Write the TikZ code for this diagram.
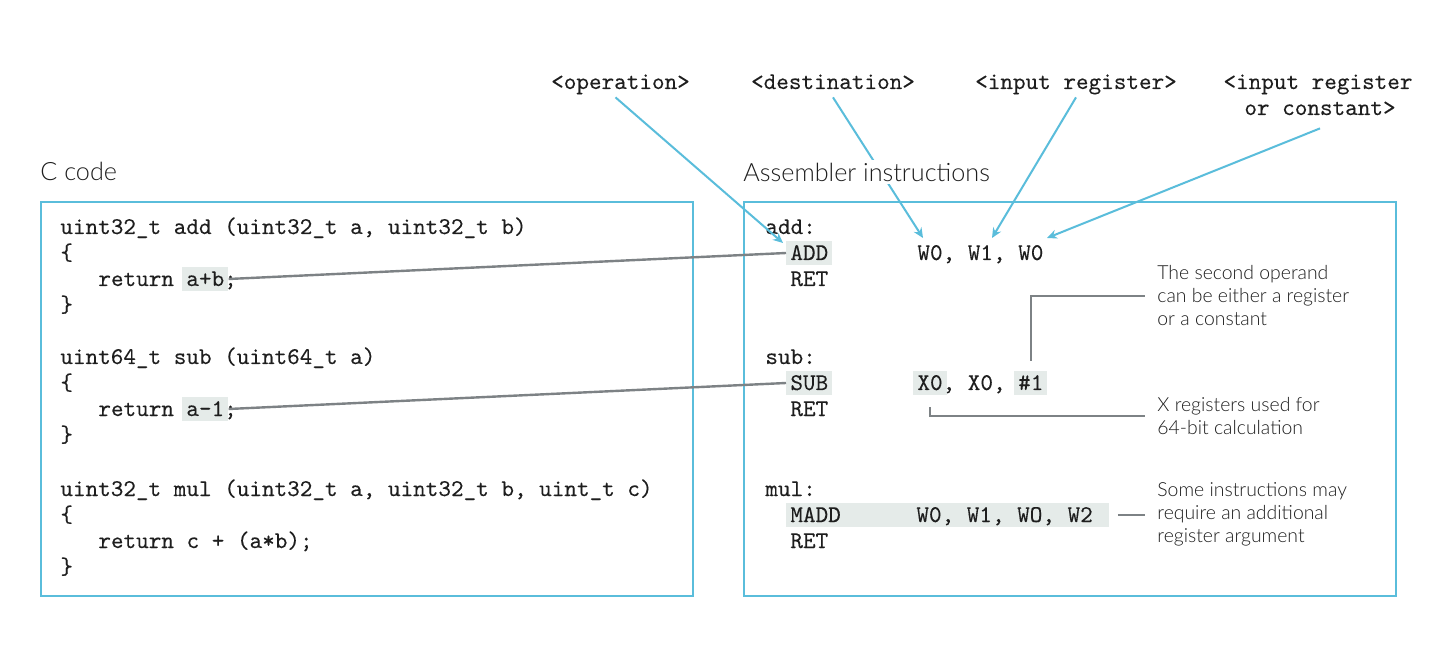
\documentclass[tikz,border=0pt]{standalone}
\usepackage{fontspec}
\newfontfamily\codefont{lmmono10-regular}[Extension=.otf,FakeBold=0.15]
\newfontfamily\latofont{Lato Light}
\usetikzlibrary{arrows.meta,calc}
\definecolor{cyanln}{HTML}{5ABDDB}
\definecolor{grayln}{HTML}{7D8285}
\definecolor{hlfill}{HTML}{E5EBE9}
\definecolor{ink}{HTML}{1E1E1E}
\tikzset{
  code/.style={font=\codefont\fontsize{12pt}{13pt}\selectfont, inner sep=0pt, anchor=base west, text=ink},
  hl/.style={code, fill=hlfill, inner xsep=2pt, inner ysep=0pt, text height=9.5pt, text depth=2.5pt},
  toplbl/.style={code, anchor=base, text depth=4pt},
  title/.style={font=\latofont\fontsize{12.6pt}{14pt}\selectfont, inner sep=0pt, anchor=west, text=ink},
  ann/.style={font=\latofont\fontsize{9.7pt}{11.5pt}\selectfont, align=left, anchor=west, inner xsep=6pt, inner ysep=0pt, text=ink},
  boxst/.style={draw=cyanln, line width=1.2pt, anchor=north west, inner sep=0pt},
  ca/.style={draw=cyanln, line width=1pt, -{Stealth[length=5pt,width=4.5pt]}},
  gl/.style={draw=grayln, line width=1.2pt},
}
\begin{document}
\begin{tikzpicture}[x=0.5pt,y=-0.5pt]
\useasboundingbox[fill=white] (0,0) rectangle (1440,662);

% boxes
\node[boxst, minimum width=326pt, minimum height=197pt] (cbox) at (40,201) {};
\node[boxst, minimum width=326pt, minimum height=197pt] (abox) at (743,201) {};

% title C code
\node[title] (ctitle) at (40,171) {C code};

% top labels
\node[toplbl] (lblop) at (620.5,89) {<operation>};
\node[toplbl] (lbldest) at (833,89) {<destination>};
\node[toplbl] (lblin) at (1076,89) {<input register>};
\node[toplbl] (lblc1) at (1318,89) {<input register};
\node[toplbl] (lblc2) at (1320,115) {or constant>};

% C code
\node[code] (c1) at (60,234) {uint32\_t add (uint32\_t a, uint32\_t b)};
\node[code] (c2) at (60,260) {\{};
\node[code] (c3) at (98,286) {return};
\node[hl] (apb) at (182,286) {a+b};
\node[code] (c3s) at (223.8,286) {;};
\node[code] (c4) at (60,312) {\}};
\node[code] (c5) at (60,364) {uint64\_t sub (uint64\_t a)};
\node[code] (c6) at (60,390) {\{};
\node[code] (c7) at (98,416) {return};
\node[hl] (am1) at (182,416) {a-1};
\node[code] (c7s) at (223.8,416) {;};
\node[code] (c8) at (60,442) {\}};
\node[code] (c9) at (60,496) {uint32\_t mul (uint32\_t a, uint32\_t b, uint\_t c)};
\node[code] (c10) at (60,522) {\{};
\node[code] (c11) at (98,548) {return c + (a*b);};
\node[code] (c12) at (60,574) {\}};

% assembler
\node[code] (s1) at (765,234) {add:};
\node[hl] (addop) at (786,260) {ADD};
\node[code] (addargs) at (917,260) {W0,~W1,~W0};
\node[code] (s3) at (790,286) {RET};
\node[code] (s4) at (765,364) {sub:};
\node[hl] (subop) at (786,390) {SUB};
\node[hl] (xzero) at (913,390) {X0};
\node[code] (subargs) at (942.2,390) {,~X0,~};
\node[hl] (hash) at (1013.8,390) {\#1};
\node[code] (s6) at (790,416) {RET};
\node[code] (s7) at (765,496) {mul:};
\node[hl] (madd) at (786,522) {MADD~~~~~~W0,~W1,~WO,~W2~\hspace{3pt}};
\node[code] (s9) at (790,548) {RET};

% annotations
\node[ann] (ann1) at (1145,296) {The second operand\\can be either a register\\or a constant};
\node[ann] (ann2) at (1145,416) {X registers used for\\64-bit calculation};
\node[ann] (ann3) at (1145,514) {Some instructions may\\require an additional\\register argument};

% arrow tips
\coordinate (tipop) at (783,243);
\coordinate (tipdest) at (923,238);
\coordinate (tipin) at (992,238);
\coordinate (tipconst) at (1047,238);

% cyan arrows
\draw[ca] ([xshift=-2.5pt]lblop.south) -- (tipop);
\draw[ca] (lbldest.south) -- (tipdest);
\draw[ca] (lblin.south) -- (tipin);
\draw[ca] ([yshift=-2.5pt]lblc2.south) -- (tipconst);

% gray connectors
\draw[gl] (apb.east) -- (addop.west);
\draw[gl] (am1.east) -- (subop.west);
\draw[gl] ([yshift=5pt]hash.north) |- (ann1.west);
\draw[gl] ([yshift=-6pt]xzero.south) |- (ann2.west);
\draw[gl] ([xshift=4pt]madd.east) -- (madd.east -| ann3.west);

% title drawn last (covers arrow)
\node[title, fill=white, inner ysep=1.5pt] (atitle) at (743,172) {Assembler instructions};
\end{tikzpicture}
\end{document}
